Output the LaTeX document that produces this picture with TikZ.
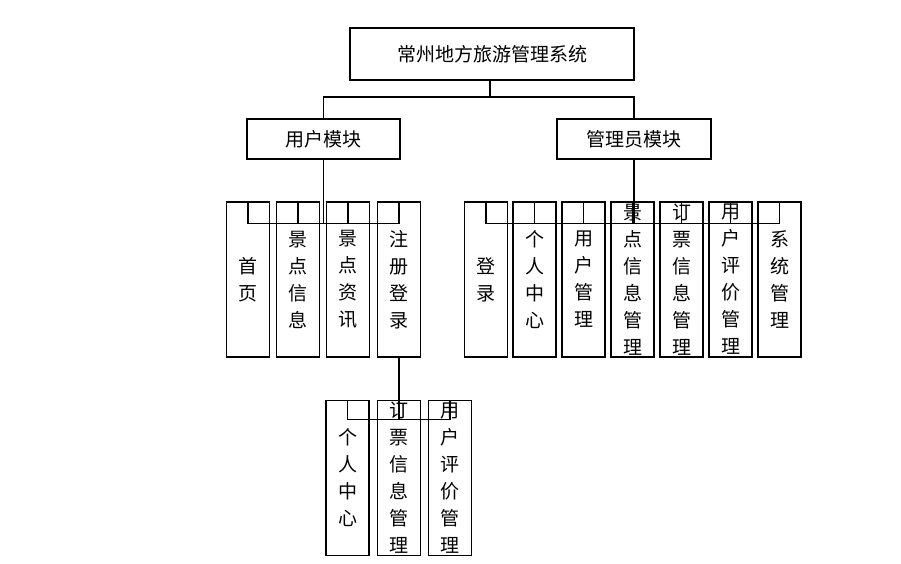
\documentclass[tikz,border=0pt]{standalone}
\usepackage{fontspec}
\newfontfamily\cjk{Noto Sans CJK SC}
\begin{document}
\begin{tikzpicture}[x=1pt,y=-1pt,
  box/.style={draw,line width=1.5pt,inner sep=0pt,font=\cjk\fontsize{19}{27}\selectfont,align=center},
  ln/.style={line width=1.2pt}]
\useasboundingbox[fill=white] (0,0) rectangle (901,563);
\node[box,minimum width=284,minimum height=52] (root) at (492,54) {常州地方旅游管理系统};
\node[box,minimum width=153,minimum height=40] (u) at (323.5,139) {用户模块};
\node[box,minimum width=154,minimum height=40] (a) at (634,139) {管理员模块};
\tikzset{v/.style={box,minimum width=43,minimum height=155}}
\node[v] (u1) at (248,279.5) {首\\页};
\node[v] (u2) at (298,279.5) {景\\点\\信\\息};
\node[v] (u3) at (348,279.5) {景\\点\\资\\讯};
\node[v] (u4) at (399,279.5) {注\\册\\登\\录};
\node[v] (a1) at (486,279.5) {登\\录};
\node[v] (a2) at (534.5,279.5) {个\\人\\中\\心};
\node[v] (a3) at (583.5,279.5) {用\\户\\管\\理};
\node[v] (a4) at (632.5,279.5) {景\\点\\信\\息\\管\\理};
\node[v] (a5) at (681.5,279.5) {订\\票\\信\\息\\管\\理};
\node[v] (a6) at (730.5,279.5) {用\\户\\评\\价\\管\\理};
\node[v] (a7) at (779.5,279.5) {系\\统\\管\\理};
\node[v] (s1) at (347.5,478) {个\\人\\中\\心};
\node[v] (s2) at (399,478) {订\\票\\信\\息\\管\\理};
\node[v] (s3) at (450,478) {用\\户\\评\\价\\管\\理};
\coordinate (j0) at (490,97);
\draw[ln] (root.south -| j0) -- (j0);
\draw[ln] (u.north) |- (j0) -| (a.north);
\foreach \n in {u1,u2,u3,u4} \draw[ln] (u.south) |- ([yshift=-22pt]\n.north) -- (\n.north);
\foreach \n in {a1,a2,a3,a4,a5,a6,a7} \draw[ln] (a.south) |- ([yshift=-22pt]\n.north) -- (\n.north);
\foreach \n in {s1,s2,s3} \draw[ln] (u4.south) |- ([yshift=-20pt]\n.north) -- (\n.north);
\end{tikzpicture}
\end{document}
